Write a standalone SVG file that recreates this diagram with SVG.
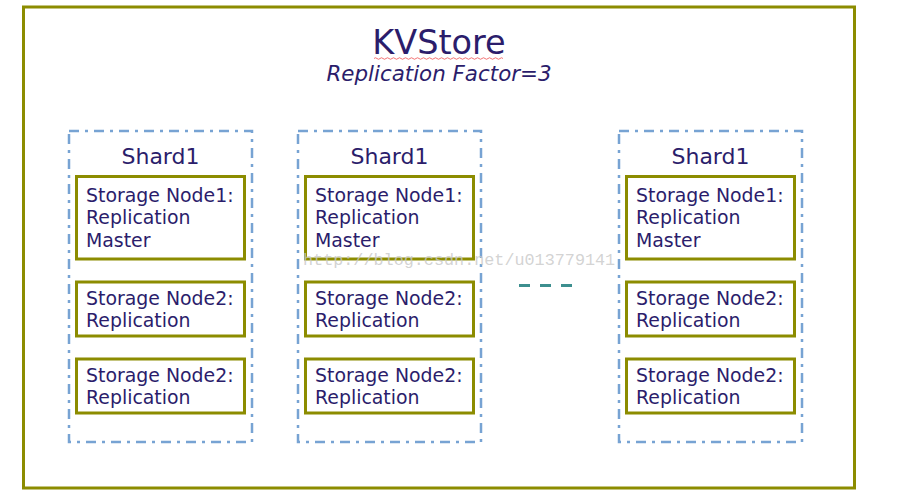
<svg xmlns="http://www.w3.org/2000/svg" width="903" height="498" viewBox="0 0 903 498">
<style>
.outer{fill:#fff;stroke:#8c8c00;stroke-width:3}
.shard{fill:none;stroke:#77a3d3;stroke-width:2.5;stroke-dasharray:10 6 3 6}
.node{fill:#fff;stroke:#8c8c00;stroke-width:3}
.t{font-family:"DejaVu Sans",Verdana,sans-serif;fill:#2b1d6b}
.st{font-size:22px;text-anchor:middle}
.nt{font-size:18.9px}
.wm{font-family:"Liberation Mono",monospace;font-size:16.8px;fill:#c8c8c8;fill-opacity:0.8}
</style>
<rect width="903" height="498" fill="#fff"/>
<rect class="outer" x="23.5" y="7" width="831" height="481"/>
<text class="t" x="439" y="54" font-size="33.5" text-anchor="middle">KVStore</text>
<path d="M374 58.5 q1.5 -1.5 3 0 t3 0 t3 0 t3 0 t3 0 t3 0 t3 0 t3 0 t3 0 t3 0 t3 0 t3 0 t3 0 t3 0 t3 0 t3 0 t3 0 t3 0 t3 0 t3 0 t3 0 t3 0 t3 0 t3 0 t3 0 t3 0 t3 0 t3 0 t3 0 t3 0 t3 0 t3 0 t3 0 t3 0 t3 0 t3 0 t3 0 t3 0 t3 0 t3 0 t3 0 t3 0 t3 0" fill="none" stroke="#f05050" stroke-width="0.8"/>
<text class="t" x="439" y="81" font-size="21.4" font-style="italic" text-anchor="middle">Replication Factor=3</text>

<g id="shard-a">
<rect class="shard" x="69" y="131" width="183" height="311"/>
<text class="t st" x="160.5" y="164">Shard1</text>
<g id="a-node1"><rect class="node" x="76.5" y="176.5" width="168" height="82.5"/><text class="t nt" x="86" y="202">Storage Node1:</text><text class="t nt" x="86" y="224">Replication</text><text class="t nt" x="86" y="246.5">Master</text></g>
<g id="a-node2"><rect class="node" x="76.5" y="282" width="168" height="54"/><text class="t nt" x="86" y="305">Storage Node2:</text><text class="t nt" x="86" y="327">Replication</text></g>
<g id="a-node3"><rect class="node" x="76.5" y="359" width="168" height="54"/><text class="t nt" x="86" y="382">Storage Node2:</text><text class="t nt" x="86" y="404">Replication</text></g>
</g>

<g id="shard-b">
<rect class="shard" x="298" y="131" width="183" height="311"/>
<text class="t st" x="389.5" y="164">Shard1</text>
<g id="b-node1"><rect class="node" x="305.5" y="176.5" width="168" height="82.5"/><text class="t nt" x="315" y="202">Storage Node1:</text><text class="t nt" x="315" y="224">Replication</text><text class="t nt" x="315" y="246.5">Master</text></g>
<g id="b-node2"><rect class="node" x="305.5" y="282" width="168" height="54"/><text class="t nt" x="315" y="305">Storage Node2:</text><text class="t nt" x="315" y="327">Replication</text></g>
<g id="b-node3"><rect class="node" x="305.5" y="359" width="168" height="54"/><text class="t nt" x="315" y="382">Storage Node2:</text><text class="t nt" x="315" y="404">Replication</text></g>
</g>

<g id="shard-c">
<rect class="shard" x="619" y="131" width="183" height="311"/>
<text class="t st" x="710.5" y="164">Shard1</text>
<g id="c-node1"><rect class="node" x="626.5" y="176.5" width="168" height="82.5"/><text class="t nt" x="636" y="202">Storage Node1:</text><text class="t nt" x="636" y="224">Replication</text><text class="t nt" x="636" y="246.5">Master</text></g>
<g id="c-node2"><rect class="node" x="626.5" y="282" width="168" height="54"/><text class="t nt" x="636" y="305">Storage Node2:</text><text class="t nt" x="636" y="327">Replication</text></g>
<g id="c-node3"><rect class="node" x="626.5" y="359" width="168" height="54"/><text class="t nt" x="636" y="382">Storage Node2:</text><text class="t nt" x="636" y="404">Replication</text></g>
</g>

<g id="connectors">
<line x1="519" y1="285.5" x2="574" y2="285.5" stroke="#3d8f8f" stroke-width="3" stroke-dasharray="11 10"/>
</g>
<text class="wm" x="303" y="265">http://blog.csdn.net/u013779141</text>
</svg>
